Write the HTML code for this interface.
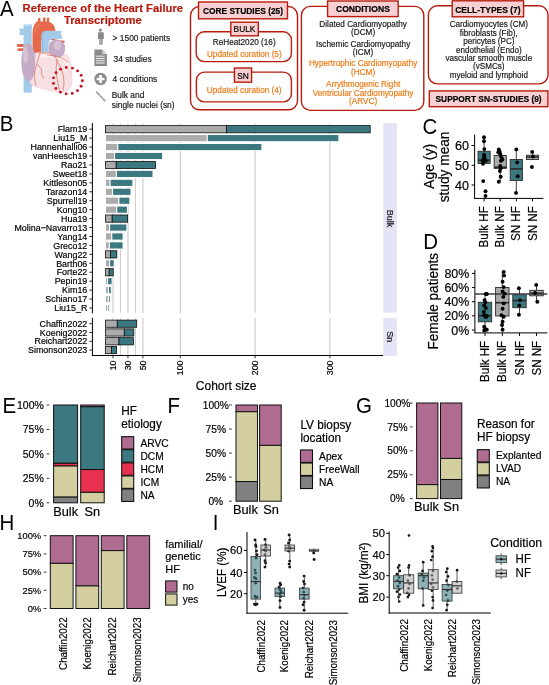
<!DOCTYPE html>
<html><head><meta charset="utf-8"><style>
html,body{margin:0;padding:0;background:#fff;}
svg{display:block;font-family:"Liberation Sans", sans-serif;will-change:transform;opacity:0.999;}
</style></head><body>
<svg width="549" height="685" viewBox="0 0 549 685">
<rect width="549" height="685" fill="#fff"/>
<text transform="translate(0.1 16.1) scale(1 1.12)" font-size="20.5">A</text>
<text transform="translate(102.80 11.80) scale(1 1.04)" font-size="11.3" text-anchor="middle" font-weight="bold" fill="#b8190b" stroke="#b8190b" stroke-width="0.18">Reference of the Heart Failure</text>
<text transform="translate(102.80 24.40) scale(1 1.04)" font-size="11.3" text-anchor="middle" font-weight="bold" fill="#b8190b" stroke="#b8190b" stroke-width="0.18">Transcriptome</text>
<g>
<rect x="16.8" y="44" width="7.5" height="3" rx="1.4" fill="#e6694c"/>
<rect x="17.3" y="48.3" width="7" height="2.8" rx="1.4" fill="#e6694c"/>
<rect x="58.5" y="40.5" width="6.2" height="2.6" rx="1.3" fill="#e6694c"/>
<rect x="59" y="45" width="6" height="2.8" rx="1.4" fill="#e6694c"/>
<rect x="23.6" y="24.2" width="8.2" height="68.5" fill="#a3cbe9"/>
<ellipse cx="27.7" cy="24.8" rx="4.1" ry="1.1" fill="#c7e0f3"/>
<path d="M19 28.5 h5 v6.5 h-5 l1.2 -3.2z" fill="#a3cbe9"/>
<path d="M38 22 v-3.5 q1.25-1.3 2.5 0 v3 h2.5 v-3.6 q1.25-1.3 2.5 0 v3.6 h1.4 v-3.4 q1.2-1.3 2.4 0 v3.8 q5.8 1.6 6 8.6 v9.5 h-14 v14 h-8.8 v-21 q0.3-11 7.5-12.9z" fill="#e6694c"/>
<path d="M35 33 q0.5-6.5 4.5-8.5" fill="none" stroke="#ef8f77" stroke-width="1"/>
<path d="M41.3 54.5 v-19 q0.3-4.2 4.5-4.8 l16.4 0.4 l-1.6 2.8 l1.6 2.4 v2.4 l-9 0.3 q-4 0.5-4.5 4 v13z" fill="#a3cbe9"/>
<path d="M42.5 52 v-15 q0.5-3 3-4" fill="none" stroke="#8fbde2" stroke-width="1.2"/>
<path d="M33 54 q3-1.8 8-1.8 l16 0.2 q8 0 11.5 4.5 q2.5 4 3.2 12 l0.2 12.5 q-0.4 6-2.8 8 q-4 3-9 2.8 l-12-2.2 q-10-2-15-4 q-4-2.5-4-7 v-20 q0.5-4 3.9-5z" fill="#f6e0e3" stroke="#ebc3c8" stroke-width="0.5"/>
<path d="M40 56.5 q12-2 22 1.5 q5 3 6.5 10" fill="none" stroke="#fbf0f2" stroke-width="3"/>
<path d="M49 44.5 q2-5 8-5 q7 0.5 8 8.5 q0.3 7.5-5 9 q-6 1.2-9.5-2 q-2.5-3.5-1.5-10.5z" fill="#c5abc6"/>
<ellipse cx="57.5" cy="45.5" rx="3.8" ry="4.5" fill="#d6c3d6"/>
<path d="M28 43.3 q5.5 0.5 6.8 12 q0.8 14-1 20 q-1.5 5.5-5 5.7 q-5-0.5-6.7-10 q-1.5-10 0-18 q1.5-9.2 5.9-9.7z" fill="#c5abc6"/>
<ellipse cx="25.6" cy="55" rx="2.6" ry="8" fill="#d6c3d6"/>
<g fill="none" stroke="#dc6a52" stroke-width="0.7">
<path d="M40 53.5 q-2 6-3.5 11 q-2 6-2 11 q0 5 1.5 10"/>
<path d="M36.5 64 q3 2.5 4.5 4.5 q1 3 0.5 5.5 q1 3 2.5 5"/>
<path d="M47 55 q8 0.5 14 2.5 q5 2 7 5.5"/>
<path d="M55 56.5 q3 6 6 12 q3 7 3 13 q0 5-1 9"/>
<path d="M57 60 q-1.5 8-0.5 15 q1 8 3 15"/>
<path d="M39 53 h11"/>
</g>
<circle cx="72.40" cy="68.08" r="1.45" fill="#c0141b"/>
<circle cx="77.64" cy="70.88" r="1.45" fill="#c0141b"/>
<circle cx="81.18" cy="75.37" r="1.45" fill="#c0141b"/>
<circle cx="82.40" cy="80.79" r="1.45" fill="#c0141b"/>
<circle cx="81.10" cy="86.19" r="1.45" fill="#c0141b"/>
<circle cx="77.50" cy="90.64" r="1.45" fill="#c0141b"/>
<circle cx="72.22" cy="93.38" r="1.45" fill="#c0141b"/>
<circle cx="66.18" cy="93.92" r="1.45" fill="#c0141b"/>
<circle cx="60.42" cy="92.17" r="1.45" fill="#c0141b"/>
<circle cx="55.93" cy="88.45" r="1.45" fill="#c0141b"/>
<circle cx="53.50" cy="83.38" r="1.45" fill="#c0141b"/>
<circle cx="53.54" cy="77.85" r="1.45" fill="#c0141b"/>
<circle cx="56.05" cy="72.81" r="1.45" fill="#c0141b"/>
<circle cx="60.58" cy="69.14" r="1.45" fill="#c0141b"/>
<circle cx="66.37" cy="67.46" r="1.45" fill="#c0141b"/>
</g>
<g fill="#8a8a8a"><circle cx="100.4" cy="30.1" r="1.6"/><path d="M97.6 32.2 h5.6 q0.6 0 0.6 0.6 v6.2 h-1.2 v5.8 h-1.4 v-5.8 h-0.5 v5.8 h-1.4 v-5.8 h-1.3 v-6.2 q0-0.6 0.6-0.6z"/></g>
<path d="M94.4 49.5 h8.1 l4.4 4.4 v12 h-12.5z" fill="#8a8a8a"/>
<path d="M102.5 49.5 l4.4 4.4 h-4.4z" fill="#fff"/>
<path d="M102.9 50.4 v3.1 h3.1z" fill="#b5b5b5"/>
<line x1="95.90" y1="56.20" x2="104.70" y2="56.20" stroke="#fff" stroke-width="0.9"/>
<line x1="95.90" y1="58.50" x2="104.70" y2="58.50" stroke="#fff" stroke-width="0.9"/>
<line x1="95.90" y1="60.80" x2="104.70" y2="60.80" stroke="#fff" stroke-width="0.9"/>
<line x1="95.90" y1="63.00" x2="104.70" y2="63.00" stroke="#fff" stroke-width="0.9"/>
<circle cx="100.6" cy="79" r="6.2" fill="#8a8a8a"/>
<path d="M99.3 75.1 h2.6 v2.6 h2.6 v2.6 h-2.6 v2.6 h-2.6 v-2.6 h-2.6 v-2.6 h2.6z" fill="#fff"/>
<line x1="96.30" y1="91.80" x2="105.30" y2="101.10" stroke="#8a8a8a" stroke-width="1.9" stroke-dasharray="1.4 0.6"/>
<text transform="translate(112.60 41.10) scale(1 1.04)" font-size="8.4" text-anchor="start" fill="#1a1a1a" stroke="#1a1a1a" stroke-width="0.18">&gt; 1500 patients</text>
<text transform="translate(113.50 61.70) scale(1 1.04)" font-size="8.4" text-anchor="start" fill="#1a1a1a" stroke="#1a1a1a" stroke-width="0.18">34 studies</text>
<text transform="translate(112.60 82.10) scale(1 1.04)" font-size="8.4" text-anchor="start" fill="#1a1a1a" stroke="#1a1a1a" stroke-width="0.18">4 conditions</text>
<text transform="translate(111.70 98.10) scale(1 1.04)" font-size="8.4" text-anchor="start" fill="#1a1a1a" stroke="#1a1a1a" stroke-width="0.18">Bulk and</text>
<text transform="translate(111.70 107.80) scale(1 1.04)" font-size="8.4" text-anchor="start" fill="#1a1a1a" stroke="#1a1a1a" stroke-width="0.18">single nuclei (sn)</text>
<rect x="190.50" y="6.50" width="107.00" height="103.30" fill="none" stroke="#b81c0c" stroke-width="1.4" rx="9"/>
<rect x="198.50" y="2.00" width="89.00" height="16.80" fill="#f8d0d3" stroke="#b81c0c" stroke-width="1.4"/>
<text transform="translate(243.00 13.80) scale(1 1.04)" font-size="8.4" text-anchor="middle" font-weight="bold" fill="#000" stroke="#000" stroke-width="0.18">CORE STUDIES (25)</text>
<rect x="196.20" y="31.80" width="95.20" height="29.80" fill="#fff" stroke="#b81c0c" stroke-width="1.4" rx="8"/>
<rect x="230.80" y="22.20" width="27.50" height="13.60" fill="#f8d0d3" stroke="#b81c0c" stroke-width="1.4"/>
<text transform="translate(244.50 32.20) scale(1 1.04)" font-size="8.4" text-anchor="middle" fill="#000" stroke="#000" stroke-width="0.18">BULK</text>
<text transform="translate(244.20 45.40) scale(1 1.04)" font-size="8.2" text-anchor="middle" fill="#1a1a1a" stroke="#1a1a1a" stroke-width="0.18">ReHeat2020 (16)</text>
<text transform="translate(244.30 56.60) scale(1 1.04)" font-size="8.2" text-anchor="middle" fill="#f07a14" stroke="#f07a14" stroke-width="0.18">Updated curation (5)</text>
<rect x="196.40" y="72.10" width="95.00" height="29.80" fill="#fff" stroke="#b81c0c" stroke-width="1.4" rx="8"/>
<rect x="234.40" y="68.00" width="17.20" height="14.20" fill="#f8d0d3" stroke="#b81c0c" stroke-width="1.4"/>
<text transform="translate(243.00 78.60) scale(1 1.04)" font-size="8.4" text-anchor="middle" fill="#000" stroke="#000" stroke-width="0.18">SN</text>
<text transform="translate(244.20 92.60) scale(1 1.04)" font-size="8.2" text-anchor="middle" fill="#f07a14" stroke="#f07a14" stroke-width="0.18">Updated curation (4)</text>
<rect x="301.40" y="6.40" width="122.40" height="104.00" fill="none" stroke="#b81c0c" stroke-width="1.4" rx="9"/>
<rect x="327.60" y="1.00" width="70.60" height="15.60" fill="#f8d0d3" stroke="#b81c0c" stroke-width="1.4"/>
<text transform="translate(362.90 12.30) scale(1 1.04)" font-size="8.6" text-anchor="middle" font-weight="bold" fill="#000" stroke="#000" stroke-width="0.18">CONDITIONS</text>
<text transform="translate(363.10 26.80) scale(1 1.04)" font-size="8.2" text-anchor="middle" fill="#1a1a1a" stroke="#1a1a1a" stroke-width="0.18">Dilated Cardiomyopathy</text>
<text transform="translate(363.10 34.90) scale(1 1.04)" font-size="8.2" text-anchor="middle" fill="#1a1a1a" stroke="#1a1a1a" stroke-width="0.18">(DCM)</text>
<text transform="translate(363.10 46.70) scale(1 1.04)" font-size="8.2" text-anchor="middle" fill="#1a1a1a" stroke="#1a1a1a" stroke-width="0.18">Ischemic Cardiomyopathy</text>
<text transform="translate(363.10 54.80) scale(1 1.04)" font-size="8.2" text-anchor="middle" fill="#1a1a1a" stroke="#1a1a1a" stroke-width="0.18">(ICM)</text>
<text transform="translate(363.10 66.10) scale(1 1.04)" font-size="8.2" text-anchor="middle" fill="#f07a14" stroke="#f07a14" stroke-width="0.18">Hypertrophic Cardiomyopathy</text>
<text transform="translate(363.10 74.70) scale(1 1.04)" font-size="8.2" text-anchor="middle" fill="#f07a14" stroke="#f07a14" stroke-width="0.18">(HCM)</text>
<text transform="translate(363.10 87.00) scale(1 1.04)" font-size="8.2" text-anchor="middle" fill="#f07a14" stroke="#f07a14" stroke-width="0.18">Arrythmogenic Right</text>
<text transform="translate(363.10 95.90) scale(1 1.04)" font-size="8.2" text-anchor="middle" fill="#f07a14" stroke="#f07a14" stroke-width="0.18">Ventricular Cardiomyopathy</text>
<text transform="translate(363.10 104.10) scale(1 1.04)" font-size="8.2" text-anchor="middle" fill="#f07a14" stroke="#f07a14" stroke-width="0.18">(ARVC)</text>
<rect x="428.40" y="5.80" width="119.60" height="78.10" fill="none" stroke="#b81c0c" stroke-width="1.4" rx="9"/>
<rect x="452.20" y="0.80" width="71.40" height="16.00" fill="#f8d0d3" stroke="#b81c0c" stroke-width="1.4"/>
<text transform="translate(487.90 12.50) scale(1 1.04)" font-size="8.5" text-anchor="middle" font-weight="bold" fill="#000" stroke="#000" stroke-width="0.18">CELL-TYPES (7)</text>
<text transform="translate(488.80 27.10) scale(1 1.04)" font-size="8.1" text-anchor="middle" fill="#1a1a1a" stroke="#1a1a1a" stroke-width="0.18">Cardiomyocytes (CM)</text>
<text transform="translate(488.80 36.00) scale(1 1.04)" font-size="8.1" text-anchor="middle" fill="#1a1a1a" stroke="#1a1a1a" stroke-width="0.18">fibroblasts (Fib),</text>
<text transform="translate(488.80 44.20) scale(1 1.04)" font-size="8.1" text-anchor="middle" fill="#1a1a1a" stroke="#1a1a1a" stroke-width="0.18">pericytes (PC)</text>
<text transform="translate(488.80 52.60) scale(1 1.04)" font-size="8.1" text-anchor="middle" fill="#1a1a1a" stroke="#1a1a1a" stroke-width="0.18">endothelial (Endo)</text>
<text transform="translate(488.80 60.80) scale(1 1.04)" font-size="8.1" text-anchor="middle" fill="#1a1a1a" stroke="#1a1a1a" stroke-width="0.18">vascular smooth muscle</text>
<text transform="translate(488.80 69.20) scale(1 1.04)" font-size="8.1" text-anchor="middle" fill="#1a1a1a" stroke="#1a1a1a" stroke-width="0.18">(vSMCs)</text>
<text transform="translate(488.80 77.50) scale(1 1.04)" font-size="8.1" text-anchor="middle" fill="#1a1a1a" stroke="#1a1a1a" stroke-width="0.18">myeloid and lymphoid</text>
<rect x="429.30" y="90.90" width="118.60" height="15.80" fill="#f8d0d3" stroke="#b81c0c" stroke-width="1.4"/>
<text transform="translate(488.60 101.60) scale(1 1.04)" font-size="8.4" text-anchor="middle" font-weight="bold" fill="#000" stroke="#000" stroke-width="0.18">SUPPORT SN-STUDIES (9)</text>
<text transform="translate(-0.3 131.1) scale(1 1.12)" font-size="20.5">B</text>
<line x1="112.98" y1="123.50" x2="112.98" y2="312.90" stroke="#cfcfcf" stroke-width="1.2"/>
<line x1="112.98" y1="318.10" x2="112.98" y2="355.40" stroke="#cfcfcf" stroke-width="1.2"/>
<line x1="120.46" y1="123.50" x2="120.46" y2="312.90" stroke="#a8a8a8" stroke-width="0.6"/>
<line x1="120.46" y1="318.10" x2="120.46" y2="355.40" stroke="#a8a8a8" stroke-width="0.6"/>
<line x1="127.94" y1="123.50" x2="127.94" y2="312.90" stroke="#cfcfcf" stroke-width="1.2"/>
<line x1="127.94" y1="318.10" x2="127.94" y2="355.40" stroke="#cfcfcf" stroke-width="1.2"/>
<line x1="135.42" y1="123.50" x2="135.42" y2="312.90" stroke="#a8a8a8" stroke-width="0.6"/>
<line x1="135.42" y1="318.10" x2="135.42" y2="355.40" stroke="#a8a8a8" stroke-width="0.6"/>
<line x1="142.90" y1="123.50" x2="142.90" y2="312.90" stroke="#cfcfcf" stroke-width="1.2"/>
<line x1="142.90" y1="318.10" x2="142.90" y2="355.40" stroke="#cfcfcf" stroke-width="1.2"/>
<line x1="180.30" y1="123.50" x2="180.30" y2="312.90" stroke="#cfcfcf" stroke-width="1.2"/>
<line x1="180.30" y1="318.10" x2="180.30" y2="355.40" stroke="#cfcfcf" stroke-width="1.2"/>
<line x1="255.10" y1="123.50" x2="255.10" y2="312.90" stroke="#cfcfcf" stroke-width="1.2"/>
<line x1="255.10" y1="318.10" x2="255.10" y2="355.40" stroke="#cfcfcf" stroke-width="1.2"/>
<line x1="329.90" y1="123.50" x2="329.90" y2="312.90" stroke="#cfcfcf" stroke-width="1.2"/>
<line x1="329.90" y1="318.10" x2="329.90" y2="355.40" stroke="#cfcfcf" stroke-width="1.2"/>
<rect x="105.50" y="125.60" width="121.10" height="7.20" fill="#ababab" stroke="#111" stroke-width="0.8"/>
<rect x="226.60" y="125.60" width="143.60" height="7.20" fill="#3b7880" stroke="#111" stroke-width="0.8"/>
<text transform="translate(87.30 132.40) scale(1 1.04)" font-size="8.9" text-anchor="end" fill="#000" stroke="#000" stroke-width="0.18">Flam19</text>
<line x1="89.30" y1="129.20" x2="92.40" y2="129.20" stroke="#000" stroke-width="0.8"/>
<rect x="105.50" y="134.54" width="101.75" height="7.20" fill="#ababab" stroke="#fff" stroke-width="1.0"/>
<rect x="207.25" y="134.54" width="131.65" height="7.20" fill="#3b7880" stroke="#fff" stroke-width="1.0"/>
<text transform="translate(87.30 141.34) scale(1 1.04)" font-size="8.9" text-anchor="end" fill="#000" stroke="#000" stroke-width="0.18">Liu15_M</text>
<line x1="89.30" y1="138.14" x2="92.40" y2="138.14" stroke="#000" stroke-width="0.8"/>
<rect x="105.50" y="143.48" width="12.30" height="7.20" fill="#ababab" stroke="#fff" stroke-width="1.0"/>
<rect x="117.80" y="143.48" width="144.10" height="7.20" fill="#3b7880" stroke="#fff" stroke-width="1.0"/>
<text transform="translate(87.30 150.28) scale(1 1.04)" font-size="8.9" text-anchor="end" fill="#000" stroke="#000" stroke-width="0.18">Hannenhalli06</text>
<line x1="89.30" y1="147.08" x2="92.40" y2="147.08" stroke="#000" stroke-width="0.8"/>
<rect x="105.50" y="152.42" width="9.10" height="7.20" fill="#ababab" stroke="#fff" stroke-width="1.0"/>
<rect x="114.60" y="152.42" width="48.00" height="7.20" fill="#3b7880" stroke="#fff" stroke-width="1.0"/>
<text transform="translate(87.30 159.22) scale(1 1.04)" font-size="8.9" text-anchor="end" fill="#000" stroke="#000" stroke-width="0.18">vanHeesch19</text>
<line x1="89.30" y1="156.02" x2="92.40" y2="156.02" stroke="#000" stroke-width="0.8"/>
<rect x="105.50" y="161.36" width="10.70" height="7.20" fill="#ababab" stroke="#111" stroke-width="0.8"/>
<rect x="116.20" y="161.36" width="39.20" height="7.20" fill="#3b7880" stroke="#111" stroke-width="0.8"/>
<text transform="translate(87.30 168.16) scale(1 1.04)" font-size="8.9" text-anchor="end" fill="#000" stroke="#000" stroke-width="0.18">Rao21</text>
<line x1="89.30" y1="164.96" x2="92.40" y2="164.96" stroke="#000" stroke-width="0.8"/>
<rect x="105.50" y="170.30" width="10.90" height="7.20" fill="#ababab" stroke="#fff" stroke-width="1.0"/>
<rect x="116.40" y="170.30" width="36.60" height="7.20" fill="#3b7880" stroke="#fff" stroke-width="1.0"/>
<text transform="translate(87.30 177.10) scale(1 1.04)" font-size="8.9" text-anchor="end" fill="#000" stroke="#000" stroke-width="0.18">Sweet18</text>
<line x1="89.30" y1="173.90" x2="92.40" y2="173.90" stroke="#000" stroke-width="0.8"/>
<rect x="105.50" y="179.24" width="4.60" height="7.20" fill="#ababab" stroke="#fff" stroke-width="1.0"/>
<rect x="110.10" y="179.24" width="22.80" height="7.20" fill="#3b7880" stroke="#fff" stroke-width="1.0"/>
<text transform="translate(87.30 186.04) scale(1 1.04)" font-size="8.9" text-anchor="end" fill="#000" stroke="#000" stroke-width="0.18">Kittleson05</text>
<line x1="89.30" y1="182.84" x2="92.40" y2="182.84" stroke="#000" stroke-width="0.8"/>
<rect x="105.50" y="188.18" width="7.10" height="7.20" fill="#ababab" stroke="#fff" stroke-width="1.0"/>
<rect x="112.60" y="188.18" width="18.40" height="7.20" fill="#3b7880" stroke="#fff" stroke-width="1.0"/>
<text transform="translate(87.30 194.98) scale(1 1.04)" font-size="8.9" text-anchor="end" fill="#000" stroke="#000" stroke-width="0.18">Tarazon14</text>
<line x1="89.30" y1="191.78" x2="92.40" y2="191.78" stroke="#000" stroke-width="0.8"/>
<rect x="105.50" y="197.12" width="13.40" height="7.20" fill="#ababab" stroke="#fff" stroke-width="1.0"/>
<rect x="118.90" y="197.12" width="11.00" height="7.20" fill="#3b7880" stroke="#fff" stroke-width="1.0"/>
<text transform="translate(87.30 203.92) scale(1 1.04)" font-size="8.9" text-anchor="end" fill="#000" stroke="#000" stroke-width="0.18">Spurrell19</text>
<line x1="89.30" y1="200.72" x2="92.40" y2="200.72" stroke="#000" stroke-width="0.8"/>
<rect x="105.50" y="206.06" width="11.30" height="7.20" fill="#ababab" stroke="#fff" stroke-width="1.0"/>
<rect x="116.80" y="206.06" width="10.60" height="7.20" fill="#3b7880" stroke="#fff" stroke-width="1.0"/>
<text transform="translate(87.30 212.86) scale(1 1.04)" font-size="8.9" text-anchor="end" fill="#000" stroke="#000" stroke-width="0.18">Kong10</text>
<line x1="89.30" y1="209.66" x2="92.40" y2="209.66" stroke="#000" stroke-width="0.8"/>
<rect x="105.50" y="215.00" width="6.70" height="7.20" fill="#ababab" stroke="#111" stroke-width="0.8"/>
<rect x="112.20" y="215.00" width="15.40" height="7.20" fill="#3b7880" stroke="#111" stroke-width="0.8"/>
<text transform="translate(87.30 221.80) scale(1 1.04)" font-size="8.9" text-anchor="end" fill="#000" stroke="#000" stroke-width="0.18">Hua19</text>
<line x1="89.30" y1="218.60" x2="92.40" y2="218.60" stroke="#000" stroke-width="0.8"/>
<rect x="105.50" y="223.94" width="4.10" height="7.20" fill="#ababab" stroke="#fff" stroke-width="1.0"/>
<rect x="109.60" y="223.94" width="17.30" height="7.20" fill="#3b7880" stroke="#fff" stroke-width="1.0"/>
<text transform="translate(87.30 230.74) scale(1 1.04)" font-size="8.9" text-anchor="end" fill="#000" stroke="#000" stroke-width="0.18">Molina−Navarro13</text>
<line x1="89.30" y1="227.54" x2="92.40" y2="227.54" stroke="#000" stroke-width="0.8"/>
<rect x="105.50" y="232.88" width="6.30" height="7.20" fill="#ababab" stroke="#fff" stroke-width="1.0"/>
<rect x="111.80" y="232.88" width="11.30" height="7.20" fill="#3b7880" stroke="#fff" stroke-width="1.0"/>
<text transform="translate(87.30 239.68) scale(1 1.04)" font-size="8.9" text-anchor="end" fill="#000" stroke="#000" stroke-width="0.18">Yang14</text>
<line x1="89.30" y1="236.48" x2="92.40" y2="236.48" stroke="#000" stroke-width="0.8"/>
<rect x="105.50" y="241.82" width="3.90" height="7.20" fill="#ababab" stroke="#fff" stroke-width="1.0"/>
<rect x="109.40" y="241.82" width="13.70" height="7.20" fill="#3b7880" stroke="#fff" stroke-width="1.0"/>
<text transform="translate(87.30 248.62) scale(1 1.04)" font-size="8.9" text-anchor="end" fill="#000" stroke="#000" stroke-width="0.18">Greco12</text>
<line x1="89.30" y1="245.42" x2="92.40" y2="245.42" stroke="#000" stroke-width="0.8"/>
<rect x="105.50" y="250.76" width="5.00" height="7.20" fill="#ababab" stroke="#111" stroke-width="0.8"/>
<rect x="110.50" y="250.76" width="6.30" height="7.20" fill="#3b7880" stroke="#111" stroke-width="0.8"/>
<text transform="translate(87.30 257.56) scale(1 1.04)" font-size="8.9" text-anchor="end" fill="#000" stroke="#000" stroke-width="0.18">Wang22</text>
<line x1="89.30" y1="254.36" x2="92.40" y2="254.36" stroke="#000" stroke-width="0.8"/>
<rect x="105.50" y="259.70" width="4.10" height="7.20" fill="#ababab" stroke="#fff" stroke-width="1.0"/>
<rect x="109.60" y="259.70" width="4.60" height="7.20" fill="#3b7880" stroke="#fff" stroke-width="1.0"/>
<text transform="translate(87.30 266.50) scale(1 1.04)" font-size="8.9" text-anchor="end" fill="#000" stroke="#000" stroke-width="0.18">Barth06</text>
<line x1="89.30" y1="263.30" x2="92.40" y2="263.30" stroke="#000" stroke-width="0.8"/>
<rect x="105.50" y="268.64" width="3.70" height="7.20" fill="#ababab" stroke="#111" stroke-width="0.8"/>
<rect x="109.20" y="268.64" width="4.00" height="7.20" fill="#3b7880" stroke="#111" stroke-width="0.8"/>
<text transform="translate(87.30 275.44) scale(1 1.04)" font-size="8.9" text-anchor="end" fill="#000" stroke="#000" stroke-width="0.18">Forte22</text>
<line x1="89.30" y1="272.24" x2="92.40" y2="272.24" stroke="#000" stroke-width="0.8"/>
<rect x="105.50" y="277.58" width="2.10" height="7.20" fill="#ababab" stroke="#fff" stroke-width="1.0"/>
<rect x="107.60" y="277.58" width="4.50" height="7.20" fill="#3b7880" stroke="#fff" stroke-width="1.0"/>
<text transform="translate(87.30 284.38) scale(1 1.04)" font-size="8.9" text-anchor="end" fill="#000" stroke="#000" stroke-width="0.18">Pepin19</text>
<line x1="89.30" y1="281.18" x2="92.40" y2="281.18" stroke="#000" stroke-width="0.8"/>
<rect x="105.50" y="286.52" width="3.00" height="7.20" fill="#ababab" stroke="#fff" stroke-width="1.0"/>
<rect x="108.50" y="286.52" width="2.80" height="7.20" fill="#3b7880" stroke="#fff" stroke-width="1.0"/>
<text transform="translate(87.30 293.32) scale(1 1.04)" font-size="8.9" text-anchor="end" fill="#000" stroke="#000" stroke-width="0.18">Kim16</text>
<line x1="89.30" y1="290.12" x2="92.40" y2="290.12" stroke="#000" stroke-width="0.8"/>
<rect x="105.50" y="295.46" width="2.90" height="7.20" fill="#ababab" stroke="#fff" stroke-width="1.0"/>
<rect x="108.40" y="295.46" width="1.80" height="7.20" fill="#3b7880" stroke="#fff" stroke-width="1.0"/>
<text transform="translate(87.30 302.26) scale(1 1.04)" font-size="8.9" text-anchor="end" fill="#000" stroke="#000" stroke-width="0.18">Schiano17</text>
<line x1="89.30" y1="299.06" x2="92.40" y2="299.06" stroke="#000" stroke-width="0.8"/>
<rect x="105.50" y="304.40" width="2.00" height="7.20" fill="#ababab" stroke="#fff" stroke-width="1.0"/>
<rect x="107.50" y="304.40" width="1.60" height="7.20" fill="#3b7880" stroke="#fff" stroke-width="1.0"/>
<text transform="translate(87.30 311.20) scale(1 1.04)" font-size="8.9" text-anchor="end" fill="#000" stroke="#000" stroke-width="0.18">Liu15_R</text>
<line x1="89.30" y1="308.00" x2="92.40" y2="308.00" stroke="#000" stroke-width="0.8"/>
<rect x="105.50" y="320.10" width="11.80" height="7.20" fill="#ababab" stroke="#111" stroke-width="0.8"/>
<rect x="117.30" y="320.10" width="19.40" height="7.20" fill="#3b7880" stroke="#111" stroke-width="0.8"/>
<text transform="translate(87.30 326.90) scale(1 1.04)" font-size="8.9" text-anchor="end" fill="#000" stroke="#000" stroke-width="0.18">Chaffin2022</text>
<line x1="89.30" y1="323.70" x2="92.40" y2="323.70" stroke="#000" stroke-width="0.8"/>
<rect x="105.50" y="328.88" width="18.80" height="7.20" fill="#ababab" stroke="#111" stroke-width="0.8"/>
<rect x="124.30" y="328.88" width="9.50" height="7.20" fill="#3b7880" stroke="#111" stroke-width="0.8"/>
<text transform="translate(87.30 335.68) scale(1 1.04)" font-size="8.9" text-anchor="end" fill="#000" stroke="#000" stroke-width="0.18">Koenig2022</text>
<line x1="89.30" y1="332.48" x2="92.40" y2="332.48" stroke="#000" stroke-width="0.8"/>
<rect x="105.50" y="337.66" width="13.50" height="7.20" fill="#ababab" stroke="#111" stroke-width="0.8"/>
<rect x="119.00" y="337.66" width="14.40" height="7.20" fill="#3b7880" stroke="#111" stroke-width="0.8"/>
<text transform="translate(87.30 344.46) scale(1 1.04)" font-size="8.9" text-anchor="end" fill="#000" stroke="#000" stroke-width="0.18">Reichart2022</text>
<line x1="89.30" y1="341.26" x2="92.40" y2="341.26" stroke="#000" stroke-width="0.8"/>
<rect x="105.50" y="346.44" width="6.00" height="7.20" fill="#ababab" stroke="#111" stroke-width="0.8"/>
<rect x="111.50" y="346.44" width="5.10" height="7.20" fill="#3b7880" stroke="#111" stroke-width="0.8"/>
<text transform="translate(87.30 353.24) scale(1 1.04)" font-size="8.9" text-anchor="end" fill="#000" stroke="#000" stroke-width="0.18">Simonson2023</text>
<line x1="89.30" y1="350.04" x2="92.40" y2="350.04" stroke="#000" stroke-width="0.8"/>
<line x1="92.40" y1="123.00" x2="92.40" y2="313.40" stroke="#000" stroke-width="1.0"/>
<line x1="92.40" y1="317.80" x2="92.40" y2="355.90" stroke="#000" stroke-width="1.0"/>
<line x1="91.90" y1="355.50" x2="383.30" y2="355.50" stroke="#000" stroke-width="1.0"/>
<line x1="112.98" y1="355.50" x2="112.98" y2="358.30" stroke="#000" stroke-width="0.8"/>
<text transform="translate(116.08 360.50) rotate(-90) scale(1 1.04)" font-size="8.8" text-anchor="end" fill="#000" stroke="#000" stroke-width="0.18">10</text>
<line x1="127.94" y1="355.50" x2="127.94" y2="358.30" stroke="#000" stroke-width="0.8"/>
<text transform="translate(131.04 360.50) rotate(-90) scale(1 1.04)" font-size="8.8" text-anchor="end" fill="#000" stroke="#000" stroke-width="0.18">30</text>
<line x1="142.90" y1="355.50" x2="142.90" y2="358.30" stroke="#000" stroke-width="0.8"/>
<text transform="translate(146.00 360.50) rotate(-90) scale(1 1.04)" font-size="8.8" text-anchor="end" fill="#000" stroke="#000" stroke-width="0.18">50</text>
<line x1="180.30" y1="355.50" x2="180.30" y2="358.30" stroke="#000" stroke-width="0.8"/>
<text transform="translate(183.40 360.50) rotate(-90) scale(1 1.04)" font-size="8.8" text-anchor="end" fill="#000" stroke="#000" stroke-width="0.18">100</text>
<line x1="255.10" y1="355.50" x2="255.10" y2="358.30" stroke="#000" stroke-width="0.8"/>
<text transform="translate(258.20 360.50) rotate(-90) scale(1 1.04)" font-size="8.8" text-anchor="end" fill="#000" stroke="#000" stroke-width="0.18">200</text>
<line x1="329.90" y1="355.50" x2="329.90" y2="358.30" stroke="#000" stroke-width="0.8"/>
<text transform="translate(333.00 360.50) rotate(-90) scale(1 1.04)" font-size="8.8" text-anchor="end" fill="#000" stroke="#000" stroke-width="0.18">300</text>
<rect x="383.30" y="123.00" width="13.60" height="189.60" fill="#e4e4f7" stroke="none" stroke-width="1"/>
<rect x="383.30" y="317.80" width="13.60" height="38.00" fill="#e4e4f7" stroke="none" stroke-width="1"/>
<text transform="translate(387.00 218.40) rotate(90) scale(1 1.04)" font-size="9" text-anchor="middle" fill="#1a1a1a" stroke="#1a1a1a" stroke-width="0.18">Bulk</text>
<text transform="translate(387.00 336.80) rotate(90) scale(1 1.04)" font-size="9" text-anchor="middle" fill="#1a1a1a" stroke="#1a1a1a" stroke-width="0.18">Sn</text>
<text transform="translate(226.20 389.70) scale(1 1.04)" font-size="12" text-anchor="middle" fill="#000" stroke="#000" stroke-width="0.18">Cohort size</text>
<text transform="translate(422.5 134.4) scale(1 1.12)" font-size="20.5">C</text>
<line x1="474.60" y1="134.60" x2="474.60" y2="198.90" stroke="#000" stroke-width="1.0"/>
<line x1="474.10" y1="198.40" x2="543.40" y2="198.40" stroke="#000" stroke-width="1.0"/>
<line x1="471.60" y1="145.50" x2="474.60" y2="145.50" stroke="#000" stroke-width="1.0"/>
<text transform="translate(469.00 150.00) scale(1 1.04)" font-size="12.6" text-anchor="end" fill="#000" stroke="#000" stroke-width="0.18">60</text>
<line x1="471.60" y1="165.30" x2="474.60" y2="165.30" stroke="#000" stroke-width="1.0"/>
<text transform="translate(469.00 169.80) scale(1 1.04)" font-size="12.6" text-anchor="end" fill="#000" stroke="#000" stroke-width="0.18">50</text>
<line x1="471.60" y1="185.00" x2="474.60" y2="185.00" stroke="#000" stroke-width="1.0"/>
<text transform="translate(469.00 189.50) scale(1 1.04)" font-size="12.6" text-anchor="end" fill="#000" stroke="#000" stroke-width="0.18">40</text>
<line x1="484.10" y1="198.40" x2="484.10" y2="201.40" stroke="#000" stroke-width="1.0"/>
<text transform="translate(488.20 206.20) rotate(-90) scale(1 1.04)" font-size="11.6" text-anchor="end" fill="#000" stroke="#000" stroke-width="0.18">Bulk HF</text>
<line x1="500.20" y1="198.40" x2="500.20" y2="201.40" stroke="#000" stroke-width="1.0"/>
<text transform="translate(504.30 206.20) rotate(-90) scale(1 1.04)" font-size="11.6" text-anchor="end" fill="#000" stroke="#000" stroke-width="0.18">Bulk NF</text>
<line x1="516.30" y1="198.40" x2="516.30" y2="201.40" stroke="#000" stroke-width="1.0"/>
<text transform="translate(520.40 206.20) rotate(-90) scale(1 1.04)" font-size="11.6" text-anchor="end" fill="#000" stroke="#000" stroke-width="0.18">SN HF</text>
<line x1="532.50" y1="198.40" x2="532.50" y2="201.40" stroke="#000" stroke-width="1.0"/>
<text transform="translate(536.60 206.20) rotate(-90) scale(1 1.04)" font-size="11.6" text-anchor="end" fill="#000" stroke="#000" stroke-width="0.18">SN NF</text>
<text transform="translate(433.90 166.40) rotate(-90) scale(1 1.04)" font-size="14" text-anchor="middle" fill="#000" stroke="#000" stroke-width="0.18">Age (y)</text>
<text transform="translate(449.10 166.90) rotate(-90) scale(1 1.04)" font-size="13.7" text-anchor="middle" fill="#000" stroke="#000" stroke-width="0.18">study mean</text>
<line x1="484.10" y1="151.30" x2="484.10" y2="137.20" stroke="#2b2b2b" stroke-width="0.9"/>
<rect x="478.00" y="151.30" width="12.20" height="12.10" fill="#3b7880" stroke="#2b2b2b" stroke-width="0.9"/>
<line x1="478.00" y1="160.20" x2="490.20" y2="160.20" stroke="#2b2b2b" stroke-width="1.62"/>
<line x1="500.20" y1="155.50" x2="500.20" y2="149.40" stroke="#2b2b2b" stroke-width="0.9"/>
<line x1="500.20" y1="168.40" x2="500.20" y2="181.80" stroke="#2b2b2b" stroke-width="0.9"/>
<rect x="494.10" y="155.50" width="12.20" height="12.90" fill="#ababab" stroke="#2b2b2b" stroke-width="0.9"/>
<line x1="494.10" y1="167.20" x2="506.30" y2="167.20" stroke="#2b2b2b" stroke-width="1.62"/>
<line x1="516.30" y1="159.50" x2="516.30" y2="149.40" stroke="#2b2b2b" stroke-width="0.9"/>
<line x1="516.30" y1="180.40" x2="516.30" y2="192.90" stroke="#2b2b2b" stroke-width="0.9"/>
<rect x="510.20" y="159.50" width="12.20" height="20.90" fill="#3b7880" stroke="#2b2b2b" stroke-width="0.9"/>
<line x1="510.20" y1="168.90" x2="522.40" y2="168.90" stroke="#2b2b2b" stroke-width="1.62"/>
<line x1="532.50" y1="155.20" x2="532.50" y2="151.90" stroke="#2b2b2b" stroke-width="0.9"/>
<rect x="526.40" y="155.20" width="12.20" height="4.30" fill="#ababab" stroke="#2b2b2b" stroke-width="0.9"/>
<line x1="526.40" y1="157.00" x2="538.60" y2="157.00" stroke="#2b2b2b" stroke-width="1.62"/>
<circle cx="484.00" cy="137.20" r="1.95" fill="#000"/>
<circle cx="484.00" cy="141.20" r="1.95" fill="#000"/>
<circle cx="484.40" cy="149.10" r="1.95" fill="#000"/>
<circle cx="484.00" cy="154.80" r="1.95" fill="#000"/>
<circle cx="484.40" cy="156.60" r="1.95" fill="#000"/>
<circle cx="483.70" cy="158.80" r="1.95" fill="#000"/>
<circle cx="485.10" cy="160.20" r="1.95" fill="#000"/>
<circle cx="482.70" cy="160.90" r="1.95" fill="#000"/>
<circle cx="485.80" cy="160.70" r="1.95" fill="#000"/>
<circle cx="483.00" cy="163.80" r="1.95" fill="#000"/>
<circle cx="483.20" cy="181.10" r="1.95" fill="#000"/>
<circle cx="485.50" cy="191.20" r="1.95" fill="#000"/>
<circle cx="485.50" cy="195.90" r="1.95" fill="#000"/>
<circle cx="498.80" cy="149.40" r="1.95" fill="#000"/>
<circle cx="499.50" cy="151.30" r="1.95" fill="#000"/>
<circle cx="498.30" cy="152.30" r="1.95" fill="#000"/>
<circle cx="500.20" cy="153.70" r="1.95" fill="#000"/>
<circle cx="500.90" cy="155.90" r="1.95" fill="#000"/>
<circle cx="501.70" cy="158.10" r="1.95" fill="#000"/>
<circle cx="502.40" cy="159.50" r="1.95" fill="#000"/>
<circle cx="500.90" cy="160.90" r="1.95" fill="#000"/>
<circle cx="500.20" cy="166.00" r="1.95" fill="#000"/>
<circle cx="500.90" cy="168.10" r="1.95" fill="#000"/>
<circle cx="499.90" cy="171.00" r="1.95" fill="#000"/>
<circle cx="500.70" cy="176.80" r="1.95" fill="#000"/>
<circle cx="498.80" cy="181.80" r="1.95" fill="#000"/>
<circle cx="516.30" cy="149.40" r="1.95" fill="#000"/>
<circle cx="517.20" cy="162.40" r="1.95" fill="#000"/>
<circle cx="517.80" cy="176.30" r="1.95" fill="#000"/>
<circle cx="516.00" cy="192.90" r="1.95" fill="#000"/>
<circle cx="532.20" cy="151.90" r="1.95" fill="#000"/>
<circle cx="533.00" cy="156.60" r="1.95" fill="#000"/>
<circle cx="531.90" cy="167.00" r="1.95" fill="#000"/>
<text transform="translate(423.2 248.6) scale(1 1.12)" font-size="20.5">D</text>
<line x1="474.90" y1="269.80" x2="474.90" y2="333.10" stroke="#000" stroke-width="1.0"/>
<line x1="474.40" y1="332.90" x2="547.30" y2="332.90" stroke="#000" stroke-width="1.0"/>
<line x1="471.90" y1="330.00" x2="474.90" y2="330.00" stroke="#000" stroke-width="1.0"/>
<text transform="translate(469.20 334.50) scale(1 1.04)" font-size="12.4" text-anchor="end" fill="#000" stroke="#000" stroke-width="0.18">0%</text>
<line x1="471.90" y1="315.85" x2="474.90" y2="315.85" stroke="#000" stroke-width="1.0"/>
<text transform="translate(469.20 320.35) scale(1 1.04)" font-size="12.4" text-anchor="end" fill="#000" stroke="#000" stroke-width="0.18">20%</text>
<line x1="471.90" y1="301.70" x2="474.90" y2="301.70" stroke="#000" stroke-width="1.0"/>
<text transform="translate(469.20 306.20) scale(1 1.04)" font-size="12.4" text-anchor="end" fill="#000" stroke="#000" stroke-width="0.18">40%</text>
<line x1="471.90" y1="287.55" x2="474.90" y2="287.55" stroke="#000" stroke-width="1.0"/>
<text transform="translate(469.20 292.05) scale(1 1.04)" font-size="12.4" text-anchor="end" fill="#000" stroke="#000" stroke-width="0.18">60%</text>
<line x1="471.90" y1="273.40" x2="474.90" y2="273.40" stroke="#000" stroke-width="1.0"/>
<text transform="translate(469.20 277.90) scale(1 1.04)" font-size="12.4" text-anchor="end" fill="#000" stroke="#000" stroke-width="0.18">80%</text>
<line x1="485.00" y1="332.90" x2="485.00" y2="335.90" stroke="#000" stroke-width="1.0"/>
<text transform="translate(489.10 340.80) rotate(-90) scale(1 1.04)" font-size="11.6" text-anchor="end" fill="#000" stroke="#000" stroke-width="0.18">Bulk HF</text>
<line x1="502.30" y1="332.90" x2="502.30" y2="335.90" stroke="#000" stroke-width="1.0"/>
<text transform="translate(506.40 340.80) rotate(-90) scale(1 1.04)" font-size="11.6" text-anchor="end" fill="#000" stroke="#000" stroke-width="0.18">Bulk NF</text>
<line x1="519.50" y1="332.90" x2="519.50" y2="335.90" stroke="#000" stroke-width="1.0"/>
<text transform="translate(523.60 340.80) rotate(-90) scale(1 1.04)" font-size="11.6" text-anchor="end" fill="#000" stroke="#000" stroke-width="0.18">SN HF</text>
<line x1="536.50" y1="332.90" x2="536.50" y2="335.90" stroke="#000" stroke-width="1.0"/>
<text transform="translate(540.60 340.80) rotate(-90) scale(1 1.04)" font-size="11.6" text-anchor="end" fill="#000" stroke="#000" stroke-width="0.18">SN NF</text>
<text transform="translate(438.00 301.20) rotate(-90) scale(1 1.04)" font-size="13.6" text-anchor="middle" fill="#000" stroke="#000" stroke-width="0.18">Female patients</text>
<line x1="485.00" y1="302.30" x2="485.00" y2="294.00" stroke="#2b2b2b" stroke-width="0.9"/>
<line x1="485.00" y1="321.80" x2="485.00" y2="330.50" stroke="#2b2b2b" stroke-width="0.9"/>
<rect x="478.30" y="302.30" width="13.40" height="19.50" fill="#3b7880" stroke="#2b2b2b" stroke-width="0.9"/>
<line x1="478.30" y1="315.70" x2="491.70" y2="315.70" stroke="#2b2b2b" stroke-width="1.62"/>
<line x1="502.30" y1="287.50" x2="502.30" y2="271.90" stroke="#2b2b2b" stroke-width="0.9"/>
<line x1="502.30" y1="316.00" x2="502.30" y2="329.80" stroke="#2b2b2b" stroke-width="0.9"/>
<rect x="495.60" y="287.50" width="13.40" height="28.50" fill="#ababab" stroke="#2b2b2b" stroke-width="0.9"/>
<line x1="495.60" y1="302.70" x2="509.00" y2="302.70" stroke="#2b2b2b" stroke-width="1.62"/>
<line x1="519.50" y1="294.70" x2="519.50" y2="288.20" stroke="#2b2b2b" stroke-width="0.9"/>
<line x1="519.50" y1="307.70" x2="519.50" y2="314.80" stroke="#2b2b2b" stroke-width="0.9"/>
<rect x="512.80" y="294.70" width="13.40" height="13.00" fill="#3b7880" stroke="#2b2b2b" stroke-width="0.9"/>
<line x1="512.80" y1="300.50" x2="526.20" y2="300.50" stroke="#2b2b2b" stroke-width="1.62"/>
<line x1="536.50" y1="290.30" x2="536.50" y2="284.90" stroke="#2b2b2b" stroke-width="0.9"/>
<line x1="536.50" y1="295.80" x2="536.50" y2="301.80" stroke="#2b2b2b" stroke-width="0.9"/>
<rect x="529.80" y="290.30" width="13.40" height="5.50" fill="#ababab" stroke="#2b2b2b" stroke-width="0.9"/>
<line x1="529.80" y1="293.20" x2="543.20" y2="293.20" stroke="#2b2b2b" stroke-width="1.62"/>
<line x1="474.90" y1="294.00" x2="547.30" y2="294.00" stroke="#3c3c3c" stroke-width="1.3"/>
<circle cx="485.90" cy="294.00" r="1.95" fill="#000"/>
<circle cx="486.80" cy="294.00" r="1.95" fill="#000"/>
<circle cx="484.60" cy="300.10" r="1.95" fill="#000"/>
<circle cx="485.30" cy="302.30" r="1.95" fill="#000"/>
<circle cx="484.20" cy="305.50" r="1.95" fill="#000"/>
<circle cx="485.90" cy="308.10" r="1.95" fill="#000"/>
<circle cx="483.80" cy="312.00" r="1.95" fill="#000"/>
<circle cx="484.20" cy="315.30" r="1.95" fill="#000"/>
<circle cx="486.80" cy="315.90" r="1.95" fill="#000"/>
<circle cx="485.90" cy="317.00" r="1.95" fill="#000"/>
<circle cx="484.20" cy="326.80" r="1.95" fill="#000"/>
<circle cx="485.30" cy="328.90" r="1.95" fill="#000"/>
<circle cx="486.80" cy="329.80" r="1.95" fill="#000"/>
<circle cx="484.20" cy="330.50" r="1.95" fill="#000"/>
<circle cx="503.70" cy="271.90" r="1.95" fill="#000"/>
<circle cx="504.10" cy="275.60" r="1.95" fill="#000"/>
<circle cx="502.60" cy="281.70" r="1.95" fill="#000"/>
<circle cx="503.70" cy="287.10" r="1.95" fill="#000"/>
<circle cx="502.60" cy="291.40" r="1.95" fill="#000"/>
<circle cx="504.80" cy="293.60" r="1.95" fill="#000"/>
<circle cx="503.30" cy="296.90" r="1.95" fill="#000"/>
<circle cx="503.70" cy="303.40" r="1.95" fill="#000"/>
<circle cx="502.60" cy="308.80" r="1.95" fill="#000"/>
<circle cx="501.50" cy="315.30" r="1.95" fill="#000"/>
<circle cx="503.70" cy="316.80" r="1.95" fill="#000"/>
<circle cx="502.60" cy="321.80" r="1.95" fill="#000"/>
<circle cx="502.00" cy="325.00" r="1.95" fill="#000"/>
<circle cx="502.60" cy="329.80" r="1.95" fill="#000"/>
<circle cx="518.90" cy="288.20" r="1.95" fill="#000"/>
<circle cx="520.00" cy="300.10" r="1.95" fill="#000"/>
<circle cx="519.30" cy="305.50" r="1.95" fill="#000"/>
<circle cx="518.90" cy="314.80" r="1.95" fill="#000"/>
<circle cx="536.20" cy="284.90" r="1.95" fill="#000"/>
<circle cx="535.10" cy="293.00" r="1.95" fill="#000"/>
<circle cx="537.30" cy="301.80" r="1.95" fill="#000"/>
<text transform="translate(2.6 412.9) scale(1 1.12)" font-size="20.5">E</text>
<line x1="46.60" y1="502.80" x2="49.30" y2="502.80" stroke="#222" stroke-width="0.9"/>
<text transform="translate(43.80 506.58) scale(1 1.04)" font-size="10.5" text-anchor="end" fill="#000" stroke="#000" stroke-width="0.18">0%</text>
<line x1="46.60" y1="478.35" x2="49.30" y2="478.35" stroke="#222" stroke-width="0.9"/>
<text transform="translate(43.80 482.13) scale(1 1.04)" font-size="10.5" text-anchor="end" fill="#000" stroke="#000" stroke-width="0.18">25%</text>
<line x1="46.60" y1="453.90" x2="49.30" y2="453.90" stroke="#222" stroke-width="0.9"/>
<text transform="translate(43.80 457.68) scale(1 1.04)" font-size="10.5" text-anchor="end" fill="#000" stroke="#000" stroke-width="0.18">50%</text>
<line x1="46.60" y1="429.45" x2="49.30" y2="429.45" stroke="#222" stroke-width="0.9"/>
<text transform="translate(43.80 433.23) scale(1 1.04)" font-size="10.5" text-anchor="end" fill="#000" stroke="#000" stroke-width="0.18">75%</text>
<line x1="46.60" y1="405.00" x2="49.30" y2="405.00" stroke="#222" stroke-width="0.9"/>
<text transform="translate(43.80 408.78) scale(1 1.04)" font-size="10.5" text-anchor="end" fill="#000" stroke="#000" stroke-width="0.18">100%</text>
<rect x="53.60" y="405.00" width="24.00" height="58.29" fill="#3b7880" stroke="#111" stroke-width="1.0"/>
<rect x="53.60" y="463.29" width="24.00" height="2.74" fill="#e8314f" stroke="#111" stroke-width="1.0"/>
<rect x="53.60" y="466.03" width="24.00" height="31.10" fill="#d4cfa1" stroke="#111" stroke-width="1.0"/>
<rect x="53.60" y="497.13" width="24.00" height="5.67" fill="#808080" stroke="#111" stroke-width="1.0"/>
<rect x="80.70" y="405.00" width="23.50" height="1.76" fill="#b06b91" stroke="#111" stroke-width="1.0"/>
<rect x="80.70" y="406.76" width="23.50" height="62.79" fill="#3b7880" stroke="#111" stroke-width="1.0"/>
<rect x="80.70" y="469.55" width="23.50" height="22.79" fill="#e8314f" stroke="#111" stroke-width="1.0"/>
<rect x="80.70" y="492.34" width="23.50" height="10.46" fill="#d4cfa1" stroke="#111" stroke-width="1.0"/>
<text transform="translate(65.60 516.00) scale(1 1.04)" font-size="12.8" text-anchor="middle" fill="#000" stroke="#000" stroke-width="0.18">Bulk</text>
<text transform="translate(92.40 516.00) scale(1 1.04)" font-size="12.8" text-anchor="middle" fill="#000" stroke="#000" stroke-width="0.18">Sn</text>
<text transform="translate(121.20 415.30) scale(1 1.04)" font-size="11.8" text-anchor="start" fill="#000" stroke="#000" stroke-width="0.18">HF</text>
<text transform="translate(121.20 428.10) scale(1 1.04)" font-size="11.8" text-anchor="start" fill="#000" stroke="#000" stroke-width="0.18">etiology</text>
<rect x="121.70" y="436.65" width="12.00" height="12.40" fill="#b06b91" stroke="#111" stroke-width="1.1"/>
<text transform="translate(140.50 446.52) scale(1 1.04)" font-size="10.2" text-anchor="start" fill="#000" stroke="#000" stroke-width="0.18">ARVC</text>
<rect x="121.70" y="449.75" width="12.00" height="12.40" fill="#3b7880" stroke="#111" stroke-width="1.1"/>
<text transform="translate(140.50 459.62) scale(1 1.04)" font-size="10.2" text-anchor="start" fill="#000" stroke="#000" stroke-width="0.18">DCM</text>
<rect x="121.70" y="462.85" width="12.00" height="12.40" fill="#e8314f" stroke="#111" stroke-width="1.1"/>
<text transform="translate(140.50 472.72) scale(1 1.04)" font-size="10.2" text-anchor="start" fill="#000" stroke="#000" stroke-width="0.18">HCM</text>
<rect x="121.70" y="475.95" width="12.00" height="12.40" fill="#d4cfa1" stroke="#111" stroke-width="1.1"/>
<text transform="translate(140.50 485.82) scale(1 1.04)" font-size="10.2" text-anchor="start" fill="#000" stroke="#000" stroke-width="0.18">ICM</text>
<rect x="121.70" y="489.05" width="12.00" height="12.40" fill="#808080" stroke="#111" stroke-width="1.1"/>
<text transform="translate(140.50 498.92) scale(1 1.04)" font-size="10.2" text-anchor="start" fill="#000" stroke="#000" stroke-width="0.18">NA</text>
<text transform="translate(167.6 412.9) scale(1 1.12)" font-size="20.5">F</text>
<line x1="229.10" y1="501.20" x2="231.80" y2="501.20" stroke="#222" stroke-width="0.9"/>
<text transform="translate(215.80 504.87) scale(1 1.04)" font-size="10.2" text-anchor="middle" fill="#000" stroke="#000" stroke-width="0.18">0%</text>
<line x1="229.10" y1="477.15" x2="231.80" y2="477.15" stroke="#222" stroke-width="0.9"/>
<text transform="translate(215.80 480.82) scale(1 1.04)" font-size="10.2" text-anchor="middle" fill="#000" stroke="#000" stroke-width="0.18">25%</text>
<line x1="229.10" y1="453.10" x2="231.80" y2="453.10" stroke="#222" stroke-width="0.9"/>
<text transform="translate(215.80 456.77) scale(1 1.04)" font-size="10.2" text-anchor="middle" fill="#000" stroke="#000" stroke-width="0.18">50%</text>
<line x1="229.10" y1="429.05" x2="231.80" y2="429.05" stroke="#222" stroke-width="0.9"/>
<text transform="translate(215.80 432.72) scale(1 1.04)" font-size="10.2" text-anchor="middle" fill="#000" stroke="#000" stroke-width="0.18">75%</text>
<line x1="229.10" y1="405.00" x2="231.80" y2="405.00" stroke="#222" stroke-width="0.9"/>
<text transform="translate(215.80 408.67) scale(1 1.04)" font-size="10.2" text-anchor="middle" fill="#000" stroke="#000" stroke-width="0.18">100%</text>
<rect x="236.00" y="405.00" width="21.50" height="6.73" fill="#b06b91" stroke="#111" stroke-width="1.0"/>
<rect x="236.00" y="411.73" width="21.50" height="69.84" fill="#d4cfa1" stroke="#111" stroke-width="1.0"/>
<rect x="236.00" y="481.58" width="21.50" height="19.62" fill="#808080" stroke="#111" stroke-width="1.0"/>
<rect x="259.60" y="405.00" width="21.60" height="40.40" fill="#b06b91" stroke="#111" stroke-width="1.0"/>
<rect x="259.60" y="445.40" width="21.60" height="55.80" fill="#d4cfa1" stroke="#111" stroke-width="1.0"/>
<text transform="translate(245.40 513.60) scale(1 1.04)" font-size="12.8" text-anchor="middle" fill="#000" stroke="#000" stroke-width="0.18">Bulk</text>
<text transform="translate(271.00 513.60) scale(1 1.04)" font-size="12.8" text-anchor="middle" fill="#000" stroke="#000" stroke-width="0.18">Sn</text>
<text transform="translate(300.40 429.40) scale(1 1.04)" font-size="11.8" text-anchor="start" fill="#000" stroke="#000" stroke-width="0.18">LV biopsy</text>
<text transform="translate(300.40 441.50) scale(1 1.04)" font-size="11.8" text-anchor="start" fill="#000" stroke="#000" stroke-width="0.18">location</text>
<rect x="300.50" y="449.95" width="12.00" height="12.40" fill="#b06b91" stroke="#111" stroke-width="1.1"/>
<text transform="translate(319.10 459.82) scale(1 1.04)" font-size="10.2" text-anchor="start" fill="#000" stroke="#000" stroke-width="0.18">Apex</text>
<rect x="300.50" y="463.05" width="12.00" height="12.40" fill="#d4cfa1" stroke="#111" stroke-width="1.1"/>
<text transform="translate(319.10 472.92) scale(1 1.04)" font-size="10.2" text-anchor="start" fill="#000" stroke="#000" stroke-width="0.18">FreeWall</text>
<rect x="300.50" y="476.15" width="12.00" height="12.40" fill="#808080" stroke="#111" stroke-width="1.1"/>
<text transform="translate(319.10 486.02) scale(1 1.04)" font-size="10.2" text-anchor="start" fill="#000" stroke="#000" stroke-width="0.18">NA</text>
<text transform="translate(356.0 412.6) scale(1 1.12)" font-size="20.5">G</text>
<line x1="410.00" y1="498.60" x2="412.60" y2="498.60" stroke="#222" stroke-width="0.9"/>
<text transform="translate(397.40 502.27) scale(1 1.04)" font-size="10.2" text-anchor="middle" fill="#000" stroke="#000" stroke-width="0.18">0%</text>
<line x1="410.00" y1="474.70" x2="412.60" y2="474.70" stroke="#222" stroke-width="0.9"/>
<text transform="translate(397.40 478.37) scale(1 1.04)" font-size="10.2" text-anchor="middle" fill="#000" stroke="#000" stroke-width="0.18">25%</text>
<line x1="410.00" y1="450.80" x2="412.60" y2="450.80" stroke="#222" stroke-width="0.9"/>
<text transform="translate(397.40 454.47) scale(1 1.04)" font-size="10.2" text-anchor="middle" fill="#000" stroke="#000" stroke-width="0.18">50%</text>
<line x1="410.00" y1="426.90" x2="412.60" y2="426.90" stroke="#222" stroke-width="0.9"/>
<text transform="translate(397.40 430.57) scale(1 1.04)" font-size="10.2" text-anchor="middle" fill="#000" stroke="#000" stroke-width="0.18">75%</text>
<line x1="410.00" y1="403.00" x2="412.60" y2="403.00" stroke="#222" stroke-width="0.9"/>
<text transform="translate(397.40 406.67) scale(1 1.04)" font-size="10.2" text-anchor="middle" fill="#000" stroke="#000" stroke-width="0.18">100%</text>
<rect x="416.60" y="403.00" width="21.30" height="81.64" fill="#b06b91" stroke="#111" stroke-width="1.0"/>
<rect x="416.60" y="484.64" width="21.30" height="13.96" fill="#d4cfa1" stroke="#111" stroke-width="1.0"/>
<rect x="440.50" y="403.00" width="21.30" height="55.45" fill="#b06b91" stroke="#111" stroke-width="1.0"/>
<rect x="440.50" y="458.45" width="21.30" height="21.03" fill="#d4cfa1" stroke="#111" stroke-width="1.0"/>
<rect x="440.50" y="479.48" width="21.30" height="19.12" fill="#808080" stroke="#111" stroke-width="1.0"/>
<text transform="translate(426.50 511.20) scale(1 1.04)" font-size="12.8" text-anchor="middle" fill="#000" stroke="#000" stroke-width="0.18">Bulk</text>
<text transform="translate(451.20 511.20) scale(1 1.04)" font-size="12.8" text-anchor="middle" fill="#000" stroke="#000" stroke-width="0.18">Sn</text>
<text transform="translate(477.00 428.20) scale(1 1.04)" font-size="11.8" text-anchor="start" fill="#000" stroke="#000" stroke-width="0.18">Reason for</text>
<text transform="translate(477.00 441.30) scale(1 1.04)" font-size="11.8" text-anchor="start" fill="#000" stroke="#000" stroke-width="0.18">HF biopsy</text>
<rect x="477.30" y="449.65" width="12.00" height="12.30" fill="#b06b91" stroke="#111" stroke-width="1.1"/>
<text transform="translate(496.00 459.47) scale(1 1.04)" font-size="10.2" text-anchor="start" fill="#000" stroke="#000" stroke-width="0.18">Explanted</text>
<rect x="477.30" y="462.65" width="12.00" height="12.30" fill="#d4cfa1" stroke="#111" stroke-width="1.1"/>
<text transform="translate(496.00 472.47) scale(1 1.04)" font-size="10.2" text-anchor="start" fill="#000" stroke="#000" stroke-width="0.18">LVAD</text>
<rect x="477.30" y="475.65" width="12.00" height="12.30" fill="#808080" stroke="#111" stroke-width="1.1"/>
<text transform="translate(496.00 485.47) scale(1 1.04)" font-size="10.2" text-anchor="start" fill="#000" stroke="#000" stroke-width="0.18">NA</text>
<text transform="translate(-0.4 529.7) scale(1 1.12)" font-size="20.5">H</text>
<line x1="43.70" y1="608.50" x2="46.50" y2="608.50" stroke="#222" stroke-width="0.9"/>
<text transform="translate(41.20 611.88) scale(1 1.04)" font-size="9.4" text-anchor="end" fill="#000" stroke="#000" stroke-width="0.18">0%</text>
<line x1="43.70" y1="590.30" x2="46.50" y2="590.30" stroke="#222" stroke-width="0.9"/>
<text transform="translate(41.20 593.68) scale(1 1.04)" font-size="9.4" text-anchor="end" fill="#000" stroke="#000" stroke-width="0.18">25%</text>
<line x1="43.70" y1="572.10" x2="46.50" y2="572.10" stroke="#222" stroke-width="0.9"/>
<text transform="translate(41.20 575.48) scale(1 1.04)" font-size="9.4" text-anchor="end" fill="#000" stroke="#000" stroke-width="0.18">50%</text>
<line x1="43.70" y1="553.90" x2="46.50" y2="553.90" stroke="#222" stroke-width="0.9"/>
<text transform="translate(41.20 557.28) scale(1 1.04)" font-size="9.4" text-anchor="end" fill="#000" stroke="#000" stroke-width="0.18">75%</text>
<line x1="43.70" y1="535.70" x2="46.50" y2="535.70" stroke="#222" stroke-width="0.9"/>
<text transform="translate(41.20 539.08) scale(1 1.04)" font-size="9.4" text-anchor="end" fill="#000" stroke="#000" stroke-width="0.18">100%</text>
<rect x="50.30" y="535.70" width="22.80" height="27.66" fill="#b06b91" stroke="#111" stroke-width="1.0"/>
<rect x="50.30" y="563.36" width="22.80" height="45.14" fill="#d4cfa1" stroke="#111" stroke-width="1.0"/>
<rect x="75.90" y="535.70" width="22.80" height="50.23" fill="#b06b91" stroke="#111" stroke-width="1.0"/>
<rect x="75.90" y="585.93" width="22.80" height="22.57" fill="#d4cfa1" stroke="#111" stroke-width="1.0"/>
<rect x="101.30" y="535.70" width="22.80" height="14.92" fill="#b06b91" stroke="#111" stroke-width="1.0"/>
<rect x="101.30" y="550.62" width="22.80" height="57.88" fill="#d4cfa1" stroke="#111" stroke-width="1.0"/>
<rect x="126.80" y="535.70" width="22.80" height="72.80" fill="#b06b91" stroke="#111" stroke-width="1.0"/>
<text transform="translate(66.50 617.30) rotate(-90) scale(1 1.04)" font-size="9.8" text-anchor="end" fill="#000" stroke="#000" stroke-width="0.18">Chaffin2022</text>
<text transform="translate(91.10 617.30) rotate(-90) scale(1 1.04)" font-size="9.8" text-anchor="end" fill="#000" stroke="#000" stroke-width="0.18">Koenig2022</text>
<text transform="translate(116.30 617.30) rotate(-90) scale(1 1.04)" font-size="9.8" text-anchor="end" fill="#000" stroke="#000" stroke-width="0.18">Reichart2022</text>
<text transform="translate(141.40 617.30) rotate(-90) scale(1 1.04)" font-size="9.8" text-anchor="end" fill="#000" stroke="#000" stroke-width="0.18">Simonson2023</text>
<text transform="translate(165.20 547.50) scale(1 1.04)" font-size="11" text-anchor="start" fill="#000" stroke="#000" stroke-width="0.18">familial/</text>
<text transform="translate(165.20 560.20) scale(1 1.04)" font-size="11" text-anchor="start" fill="#000" stroke="#000" stroke-width="0.18">genetic</text>
<text transform="translate(165.20 572.50) scale(1 1.04)" font-size="11" text-anchor="start" fill="#000" stroke="#000" stroke-width="0.18">HF</text>
<rect x="165.60" y="580.90" width="11.40" height="11.20" fill="#b06b91" stroke="#111" stroke-width="1.0"/>
<text transform="translate(182.70 590.10) scale(1 1.04)" font-size="10.0" text-anchor="start" fill="#000" stroke="#000" stroke-width="0.18">no</text>
<rect x="165.60" y="593.90" width="11.40" height="11.20" fill="#d4cfa1" stroke="#111" stroke-width="1.0"/>
<text transform="translate(182.70 603.10) scale(1 1.04)" font-size="10.0" text-anchor="start" fill="#000" stroke="#000" stroke-width="0.18">yes</text>
<text transform="translate(212.7 529.8) scale(1 1.12)" font-size="20.5">I</text>
<line x1="247.00" y1="532.00" x2="247.00" y2="613.70" stroke="#000" stroke-width="1.0"/>
<line x1="246.50" y1="613.20" x2="348.20" y2="613.20" stroke="#000" stroke-width="1.0"/>
<line x1="244.00" y1="550.40" x2="247.00" y2="550.40" stroke="#000" stroke-width="1.0"/>
<text transform="translate(242.40 554.40) scale(1 1.04)" font-size="11.2" text-anchor="end" fill="#000" stroke="#000" stroke-width="0.18">60</text>
<line x1="244.00" y1="572.50" x2="247.00" y2="572.50" stroke="#000" stroke-width="1.0"/>
<text transform="translate(242.40 576.50) scale(1 1.04)" font-size="11.2" text-anchor="end" fill="#000" stroke="#000" stroke-width="0.18">40</text>
<line x1="244.00" y1="593.70" x2="247.00" y2="593.70" stroke="#000" stroke-width="1.0"/>
<text transform="translate(242.40 597.70) scale(1 1.04)" font-size="11.2" text-anchor="end" fill="#000" stroke="#000" stroke-width="0.18">20</text>
<text transform="translate(225.60 572.40) rotate(-90) scale(1 1.04)" font-size="11.6" text-anchor="middle" fill="#000" stroke="#000" stroke-width="0.18">LVEF (%)</text>
<text transform="translate(264.50 620.00) rotate(-90) scale(1 1.04)" font-size="9.8" text-anchor="end" fill="#000" stroke="#000" stroke-width="0.18">Chaffin2022</text>
<text transform="translate(288.40 620.00) rotate(-90) scale(1 1.04)" font-size="9.8" text-anchor="end" fill="#000" stroke="#000" stroke-width="0.18">Koenig2022</text>
<text transform="translate(312.70 620.00) rotate(-90) scale(1 1.04)" font-size="9.8" text-anchor="end" fill="#000" stroke="#000" stroke-width="0.18">Reichart2022</text>
<text transform="translate(336.60 620.00) rotate(-90) scale(1 1.04)" font-size="9.8" text-anchor="end" fill="#000" stroke="#000" stroke-width="0.18">Simonson2023</text>
<circle cx="255.00" cy="540.00" r="1.45" fill="#111"/>
<circle cx="255.60" cy="545.00" r="1.45" fill="#111"/>
<circle cx="256.00" cy="546.60" r="1.45" fill="#111"/>
<circle cx="256.40" cy="551.00" r="1.45" fill="#111"/>
<circle cx="257.00" cy="554.70" r="1.45" fill="#111"/>
<circle cx="256.00" cy="558.00" r="1.45" fill="#111"/>
<circle cx="255.00" cy="570.10" r="1.45" fill="#111"/>
<circle cx="255.60" cy="573.10" r="1.45" fill="#111"/>
<circle cx="254.40" cy="577.50" r="1.45" fill="#111"/>
<circle cx="256.00" cy="578.70" r="1.45" fill="#111"/>
<circle cx="255.60" cy="583.10" r="1.45" fill="#111"/>
<circle cx="255.00" cy="596.10" r="1.45" fill="#111"/>
<circle cx="256.00" cy="597.50" r="1.45" fill="#111"/>
<circle cx="257.00" cy="597.10" r="1.45" fill="#111"/>
<circle cx="254.40" cy="604.10" r="1.45" fill="#111"/>
<circle cx="255.60" cy="604.70" r="1.45" fill="#111"/>
<circle cx="257.00" cy="604.10" r="1.45" fill="#111"/>
<circle cx="265.00" cy="539.40" r="1.45" fill="#111"/>
<circle cx="265.60" cy="545.00" r="1.45" fill="#111"/>
<circle cx="266.00" cy="547.40" r="1.45" fill="#111"/>
<circle cx="264.40" cy="550.00" r="1.45" fill="#111"/>
<circle cx="265.60" cy="551.00" r="1.45" fill="#111"/>
<circle cx="265.00" cy="554.70" r="1.45" fill="#111"/>
<circle cx="265.00" cy="560.70" r="1.45" fill="#111"/>
<circle cx="265.60" cy="563.10" r="1.45" fill="#111"/>
<circle cx="265.00" cy="567.10" r="1.45" fill="#111"/>
<circle cx="280.00" cy="583.10" r="1.45" fill="#111"/>
<circle cx="280.70" cy="584.70" r="1.45" fill="#111"/>
<circle cx="279.10" cy="587.10" r="1.45" fill="#111"/>
<circle cx="280.00" cy="589.50" r="1.45" fill="#111"/>
<circle cx="281.10" cy="591.70" r="1.45" fill="#111"/>
<circle cx="279.70" cy="594.10" r="1.45" fill="#111"/>
<circle cx="280.50" cy="596.50" r="1.45" fill="#111"/>
<circle cx="280.00" cy="600.70" r="1.45" fill="#111"/>
<circle cx="280.00" cy="607.50" r="1.45" fill="#111"/>
<circle cx="289.10" cy="535.00" r="1.45" fill="#111"/>
<circle cx="289.70" cy="540.00" r="1.45" fill="#111"/>
<circle cx="288.50" cy="543.00" r="1.45" fill="#111"/>
<circle cx="289.10" cy="546.60" r="1.45" fill="#111"/>
<circle cx="290.10" cy="548.60" r="1.45" fill="#111"/>
<circle cx="288.50" cy="551.00" r="1.45" fill="#111"/>
<circle cx="289.70" cy="561.10" r="1.45" fill="#111"/>
<circle cx="289.10" cy="564.10" r="1.45" fill="#111"/>
<circle cx="289.70" cy="567.10" r="1.45" fill="#111"/>
<circle cx="304.10" cy="576.10" r="1.45" fill="#111"/>
<circle cx="303.70" cy="581.50" r="1.45" fill="#111"/>
<circle cx="304.50" cy="584.10" r="1.45" fill="#111"/>
<circle cx="303.10" cy="588.10" r="1.45" fill="#111"/>
<circle cx="303.70" cy="592.10" r="1.45" fill="#111"/>
<circle cx="304.50" cy="595.10" r="1.45" fill="#111"/>
<circle cx="303.70" cy="598.10" r="1.45" fill="#111"/>
<circle cx="304.10" cy="602.10" r="1.45" fill="#111"/>
<circle cx="303.10" cy="604.70" r="1.45" fill="#111"/>
<circle cx="304.10" cy="610.20" r="1.45" fill="#111"/>
<circle cx="314.10" cy="550.60" r="1.45" fill="#111"/>
<circle cx="313.70" cy="553.00" r="1.45" fill="#111"/>
<circle cx="314.10" cy="559.50" r="1.45" fill="#111"/>
<line x1="255.80" y1="556.50" x2="255.80" y2="540.00" stroke="#333" stroke-width="0.8"/>
<line x1="255.80" y1="599.10" x2="255.80" y2="604.10" stroke="#333" stroke-width="0.8"/>
<rect x="251.00" y="556.50" width="9.60" height="42.60" fill="rgba(59,120,128,0.58)" stroke="#333" stroke-width="0.8"/>
<line x1="251.00" y1="581.50" x2="260.60" y2="581.50" stroke="#333" stroke-width="1.2000000000000002"/>
<line x1="265.70" y1="545.00" x2="265.70" y2="539.40" stroke="#333" stroke-width="0.8"/>
<line x1="265.70" y1="556.00" x2="265.70" y2="567.00" stroke="#333" stroke-width="0.8"/>
<rect x="260.90" y="545.00" width="9.60" height="11.00" fill="rgba(171,171,171,0.55)" stroke="#333" stroke-width="0.8"/>
<line x1="260.90" y1="550.00" x2="270.50" y2="550.00" stroke="#333" stroke-width="1.2000000000000002"/>
<line x1="279.80" y1="588.10" x2="279.80" y2="582.10" stroke="#333" stroke-width="0.8"/>
<line x1="279.80" y1="596.50" x2="279.80" y2="607.50" stroke="#333" stroke-width="0.8"/>
<rect x="275.00" y="588.10" width="9.60" height="8.40" fill="rgba(59,120,128,0.58)" stroke="#333" stroke-width="0.8"/>
<line x1="275.00" y1="593.10" x2="284.60" y2="593.10" stroke="#333" stroke-width="1.2000000000000002"/>
<line x1="289.80" y1="545.00" x2="289.80" y2="535.00" stroke="#333" stroke-width="0.8"/>
<line x1="289.80" y1="551.00" x2="289.80" y2="567.50" stroke="#333" stroke-width="0.8"/>
<rect x="285.00" y="545.00" width="9.60" height="6.00" fill="rgba(171,171,171,0.55)" stroke="#333" stroke-width="0.8"/>
<line x1="285.00" y1="548.20" x2="294.60" y2="548.20" stroke="#333" stroke-width="1.2000000000000002"/>
<line x1="304.30" y1="588.10" x2="304.30" y2="576.10" stroke="#333" stroke-width="0.8"/>
<line x1="304.30" y1="599.10" x2="304.30" y2="610.20" stroke="#333" stroke-width="0.8"/>
<rect x="299.50" y="588.10" width="9.60" height="11.00" fill="rgba(59,120,128,0.58)" stroke="#333" stroke-width="0.8"/>
<line x1="299.50" y1="594.70" x2="309.10" y2="594.70" stroke="#333" stroke-width="1.2000000000000002"/>
<line x1="314.00" y1="549.20" x2="314.00" y2="548.40" stroke="#333" stroke-width="0.6"/>
<line x1="314.00" y1="551.60" x2="314.00" y2="552.60" stroke="#333" stroke-width="0.6"/>
<rect x="309.20" y="549.20" width="9.60" height="2.40" fill="rgba(171,171,171,0.55)" stroke="#333" stroke-width="0.6"/>
<line x1="309.20" y1="550.40" x2="318.80" y2="550.40" stroke="#333" stroke-width="0.8999999999999999"/>
<line x1="389.20" y1="531.60" x2="389.20" y2="613.50" stroke="#000" stroke-width="1.0"/>
<line x1="388.70" y1="613.00" x2="490.80" y2="613.00" stroke="#000" stroke-width="1.0"/>
<line x1="386.20" y1="533.30" x2="389.20" y2="533.30" stroke="#000" stroke-width="1.0"/>
<text transform="translate(384.90 537.30) scale(1 1.04)" font-size="11.2" text-anchor="end" fill="#000" stroke="#000" stroke-width="0.18">50</text>
<line x1="386.20" y1="554.50" x2="389.20" y2="554.50" stroke="#000" stroke-width="1.0"/>
<text transform="translate(384.90 558.50) scale(1 1.04)" font-size="11.2" text-anchor="end" fill="#000" stroke="#000" stroke-width="0.18">40</text>
<line x1="386.20" y1="575.70" x2="389.20" y2="575.70" stroke="#000" stroke-width="1.0"/>
<text transform="translate(384.90 579.70) scale(1 1.04)" font-size="11.2" text-anchor="end" fill="#000" stroke="#000" stroke-width="0.18">30</text>
<line x1="386.20" y1="597.10" x2="389.20" y2="597.10" stroke="#000" stroke-width="1.0"/>
<text transform="translate(384.90 601.10) scale(1 1.04)" font-size="11.2" text-anchor="end" fill="#000" stroke="#000" stroke-width="0.18">20</text>
<text transform="translate(368.20 573.10) rotate(-90) scale(1 1.04)" font-size="11.7" text-anchor="middle" fill="#000" stroke="#000" stroke-width="0.18">BMI (kg/m²)</text>
<text transform="translate(408.10 619.10) rotate(-90) scale(1 1.04)" font-size="9.8" text-anchor="end" fill="#000" stroke="#000" stroke-width="0.18">Chaffin2022</text>
<text transform="translate(432.10 619.10) rotate(-90) scale(1 1.04)" font-size="9.8" text-anchor="end" fill="#000" stroke="#000" stroke-width="0.18">Koenig2022</text>
<text transform="translate(455.80 619.10) rotate(-90) scale(1 1.04)" font-size="9.8" text-anchor="end" fill="#000" stroke="#000" stroke-width="0.18">Reichart2022</text>
<text transform="translate(479.50 619.10) rotate(-90) scale(1 1.04)" font-size="9.8" text-anchor="end" fill="#000" stroke="#000" stroke-width="0.18">Simonson2023</text>
<circle cx="399.20" cy="565.40" r="1.35" fill="#111"/>
<circle cx="398.10" cy="567.60" r="1.35" fill="#111"/>
<circle cx="399.80" cy="570.90" r="1.35" fill="#111"/>
<circle cx="397.00" cy="574.20" r="1.35" fill="#111"/>
<circle cx="399.20" cy="577.50" r="1.35" fill="#111"/>
<circle cx="397.60" cy="580.70" r="1.35" fill="#111"/>
<circle cx="399.80" cy="582.90" r="1.35" fill="#111"/>
<circle cx="398.10" cy="586.20" r="1.35" fill="#111"/>
<circle cx="399.20" cy="589.50" r="1.35" fill="#111"/>
<circle cx="397.00" cy="591.70" r="1.35" fill="#111"/>
<circle cx="399.80" cy="594.50" r="1.35" fill="#111"/>
<circle cx="398.50" cy="597.10" r="1.35" fill="#111"/>
<circle cx="399.20" cy="601.50" r="1.35" fill="#111"/>
<circle cx="409.00" cy="535.50" r="1.35" fill="#111"/>
<circle cx="409.00" cy="565.40" r="1.35" fill="#111"/>
<circle cx="408.60" cy="567.60" r="1.35" fill="#111"/>
<circle cx="409.50" cy="575.30" r="1.35" fill="#111"/>
<circle cx="407.90" cy="580.70" r="1.35" fill="#111"/>
<circle cx="409.50" cy="584.00" r="1.35" fill="#111"/>
<circle cx="408.60" cy="588.40" r="1.35" fill="#111"/>
<circle cx="407.30" cy="592.80" r="1.35" fill="#111"/>
<circle cx="409.00" cy="595.00" r="1.35" fill="#111"/>
<circle cx="407.90" cy="597.10" r="1.35" fill="#111"/>
<circle cx="423.20" cy="562.20" r="1.35" fill="#111"/>
<circle cx="422.60" cy="570.90" r="1.35" fill="#111"/>
<circle cx="421.70" cy="574.20" r="1.35" fill="#111"/>
<circle cx="423.90" cy="577.50" r="1.35" fill="#111"/>
<circle cx="423.20" cy="580.70" r="1.35" fill="#111"/>
<circle cx="422.60" cy="588.40" r="1.35" fill="#111"/>
<circle cx="423.20" cy="605.40" r="1.35" fill="#111"/>
<circle cx="432.60" cy="546.40" r="1.35" fill="#111"/>
<circle cx="433.00" cy="548.00" r="1.35" fill="#111"/>
<circle cx="431.90" cy="551.20" r="1.35" fill="#111"/>
<circle cx="432.60" cy="556.70" r="1.35" fill="#111"/>
<circle cx="431.30" cy="560.00" r="1.35" fill="#111"/>
<circle cx="433.00" cy="570.90" r="1.35" fill="#111"/>
<circle cx="431.90" cy="575.30" r="1.35" fill="#111"/>
<circle cx="432.60" cy="579.60" r="1.35" fill="#111"/>
<circle cx="431.30" cy="584.00" r="1.35" fill="#111"/>
<circle cx="433.00" cy="587.30" r="1.35" fill="#111"/>
<circle cx="431.90" cy="590.60" r="1.35" fill="#111"/>
<circle cx="432.60" cy="597.10" r="1.35" fill="#111"/>
<circle cx="433.00" cy="600.40" r="1.35" fill="#111"/>
<circle cx="432.60" cy="608.00" r="1.35" fill="#111"/>
<circle cx="447.30" cy="568.70" r="1.35" fill="#111"/>
<circle cx="446.20" cy="572.00" r="1.35" fill="#111"/>
<circle cx="448.00" cy="576.40" r="1.35" fill="#111"/>
<circle cx="446.60" cy="580.70" r="1.35" fill="#111"/>
<circle cx="448.40" cy="585.10" r="1.35" fill="#111"/>
<circle cx="447.30" cy="590.60" r="1.35" fill="#111"/>
<circle cx="446.20" cy="595.00" r="1.35" fill="#111"/>
<circle cx="448.00" cy="600.40" r="1.35" fill="#111"/>
<circle cx="447.30" cy="604.80" r="1.35" fill="#111"/>
<circle cx="446.60" cy="610.20" r="1.35" fill="#111"/>
<circle cx="457.10" cy="570.20" r="1.35" fill="#111"/>
<circle cx="456.70" cy="581.80" r="1.35" fill="#111"/>
<circle cx="457.50" cy="588.40" r="1.35" fill="#111"/>
<line x1="398.60" y1="575.70" x2="398.60" y2="565.40" stroke="#333" stroke-width="0.8"/>
<line x1="398.60" y1="588.80" x2="398.60" y2="601.90" stroke="#333" stroke-width="0.8"/>
<rect x="393.65" y="575.70" width="9.90" height="13.10" fill="rgba(59,120,128,0.58)" stroke="#333" stroke-width="0.8"/>
<line x1="393.65" y1="581.40" x2="403.55" y2="581.40" stroke="#333" stroke-width="1.2000000000000002"/>
<line x1="408.70" y1="574.80" x2="408.70" y2="565.40" stroke="#333" stroke-width="0.8"/>
<line x1="408.70" y1="593.20" x2="408.70" y2="597.00" stroke="#333" stroke-width="0.8"/>
<rect x="403.60" y="574.80" width="10.20" height="18.40" fill="rgba(171,171,171,0.55)" stroke="#333" stroke-width="0.8"/>
<line x1="403.60" y1="582.90" x2="413.80" y2="582.90" stroke="#333" stroke-width="1.2000000000000002"/>
<line x1="423.20" y1="573.10" x2="423.20" y2="562.20" stroke="#333" stroke-width="0.8"/>
<line x1="423.20" y1="588.80" x2="423.20" y2="605.40" stroke="#333" stroke-width="0.8"/>
<rect x="418.15" y="573.10" width="10.10" height="15.70" fill="rgba(59,120,128,0.58)" stroke="#333" stroke-width="0.8"/>
<line x1="418.15" y1="575.70" x2="428.25" y2="575.70" stroke="#333" stroke-width="1.2000000000000002"/>
<line x1="433.20" y1="569.40" x2="433.20" y2="546.40" stroke="#333" stroke-width="0.8"/>
<line x1="433.20" y1="589.50" x2="433.20" y2="608.00" stroke="#333" stroke-width="0.8"/>
<rect x="428.30" y="569.40" width="9.80" height="20.10" fill="rgba(171,171,171,0.55)" stroke="#333" stroke-width="0.8"/>
<line x1="428.30" y1="582.90" x2="438.10" y2="582.90" stroke="#333" stroke-width="1.2000000000000002"/>
<line x1="447.10" y1="584.50" x2="447.10" y2="568.70" stroke="#333" stroke-width="0.8"/>
<line x1="447.10" y1="601.10" x2="447.10" y2="610.20" stroke="#333" stroke-width="0.8"/>
<rect x="442.15" y="584.50" width="9.90" height="16.60" fill="rgba(59,120,128,0.58)" stroke="#333" stroke-width="0.8"/>
<line x1="442.15" y1="589.50" x2="452.05" y2="589.50" stroke="#333" stroke-width="1.2000000000000002"/>
<line x1="457.00" y1="581.40" x2="457.00" y2="570.20" stroke="#333" stroke-width="0.8"/>
<line x1="457.00" y1="593.20" x2="457.00" y2="593.20" stroke="#333" stroke-width="0.8"/>
<rect x="452.10" y="581.40" width="9.80" height="11.80" fill="rgba(171,171,171,0.55)" stroke="#333" stroke-width="0.8"/>
<line x1="452.10" y1="585.80" x2="461.90" y2="585.80" stroke="#333" stroke-width="1.2000000000000002"/>
<text transform="translate(490.20 546.90) scale(1 1.04)" font-size="12.3" text-anchor="start" fill="#000" stroke="#000" stroke-width="0.18">Condition</text>
<line x1="501.20" y1="553.30" x2="501.20" y2="565.10" stroke="#333" stroke-width="0.8"/>
<rect x="496.00" y="555.80" width="10.40" height="6.90" fill="#fff" stroke="none" stroke-width="0"/>
<rect x="496.00" y="555.80" width="10.40" height="6.90" fill="rgba(59,120,128,0.58)" stroke="#333" stroke-width="0.8"/>
<line x1="496.00" y1="559.20" x2="506.40" y2="559.20" stroke="#333" stroke-width="1.2"/>
<circle cx="501.20" cy="559.20" r="1.2" fill="#111"/>
<line x1="501.20" y1="567.50" x2="501.20" y2="579.30" stroke="#333" stroke-width="0.8"/>
<rect x="496.00" y="570.00" width="10.40" height="6.90" fill="#fff" stroke="none" stroke-width="0"/>
<rect x="496.00" y="570.00" width="10.40" height="6.90" fill="rgba(171,171,171,0.55)" stroke="#333" stroke-width="0.8"/>
<line x1="496.00" y1="573.40" x2="506.40" y2="573.40" stroke="#333" stroke-width="1.2"/>
<circle cx="501.20" cy="573.40" r="1.2" fill="#111"/>
<text transform="translate(515.60 562.80) scale(1 1.04)" font-size="11.5" text-anchor="start" fill="#000" stroke="#000" stroke-width="0.18">HF</text>
<text transform="translate(515.60 576.70) scale(1 1.04)" font-size="11.5" text-anchor="start" fill="#000" stroke="#000" stroke-width="0.18">NF</text>
</svg>
</body></html>
